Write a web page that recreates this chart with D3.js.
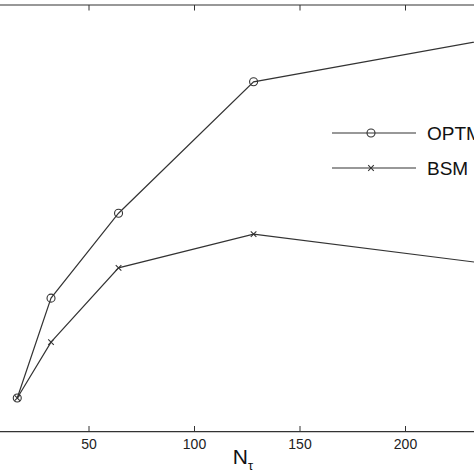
<!DOCTYPE html><html><head><meta charset="utf-8"><script src="https://cdn.jsdelivr.net/npm/d3@7"></script>
<style>body{margin:0;background:#fff}</style></head><body><svg id="c" width="474" height="474"></svg><script>
const nTau=[16,32,64,128,256];
const optm=[0.079,0.313,0.512,0.820,0.934];
const bsm=[0.079,0.210,0.384,0.463,0.383];
const xTicks=[50,100,150,200];
const svg=d3.select("#c");
const x=d3.scaleLinear().domain([0,50]).range([-16.5,89]);
const y=d3.scaleLinear().domain([0,1]).range([431.7,5]);
const c="#333";
svg.append("line").attr("x1",0).attr("x2",474).attr("y1",431.7).attr("y2",431.7).attr("stroke",c).attr("stroke-width",1.2);
svg.append("line").attr("x1",0).attr("x2",474).attr("y1",5).attr("y2",5).attr("stroke",c).attr("stroke-width",1.2);
xTicks.forEach(t=>{const px=x(t);
 svg.append("line").attr("x1",px).attr("x2",px).attr("y1",431.7).attr("y2",426).attr("stroke",c);
 svg.append("line").attr("x1",px).attr("x2",px).attr("y1",5).attr("y2",10.5).attr("stroke",c);
 svg.append("text").attr("x",px).attr("y",449).attr("text-anchor","middle").attr("font-family","Liberation Sans, Arial").attr("font-size",14).attr("fill","#222").text(t);});
const lab=svg.append("text").attr("x",243).attr("y",464).attr("text-anchor","middle").attr("font-family","Liberation Sans, Arial").attr("font-size",21).attr("fill","#111");
lab.append("tspan").text("N");lab.append("tspan").attr("font-size",13).attr("dy",6).text("τ");
const line=d3.line().x((d,i)=>x(nTau[i])).y(d=>y(d));
[optm,bsm].forEach(s=>svg.append("path").attr("d",line(s)).attr("fill","none").attr("stroke",c).attr("stroke-width",1.2));
function circ(px,py){svg.append("circle").attr("cx",px).attr("cy",py).attr("r",4).attr("fill","none").attr("stroke",c).attr("stroke-width",1.1);}
function cross(px,py){const r=2.8;svg.append("path").attr("d",`M${px-r},${py-r}L${px+r},${py+r}M${px-r},${py+r}L${px+r},${py-r}`).attr("stroke",c).attr("stroke-width",1.1);}
optm.forEach((v,i)=>circ(x(nTau[i]),y(v)));
bsm.forEach((v,i)=>cross(x(nTau[i]),y(v)));
const legend=[["OPTM",133,circ],["BSM",168,cross]];
legend.forEach(([n,ly,m])=>{svg.append("line").attr("x1",332).attr("x2",416).attr("y1",ly).attr("y2",ly).attr("stroke",c).attr("stroke-width",1.2);m(371,ly);
 svg.append("text").attr("x",427).attr("y",ly+7).attr("font-family","Liberation Sans, Arial").attr("font-size",19).attr("fill","#111").text(n);});
</script></body></html>
